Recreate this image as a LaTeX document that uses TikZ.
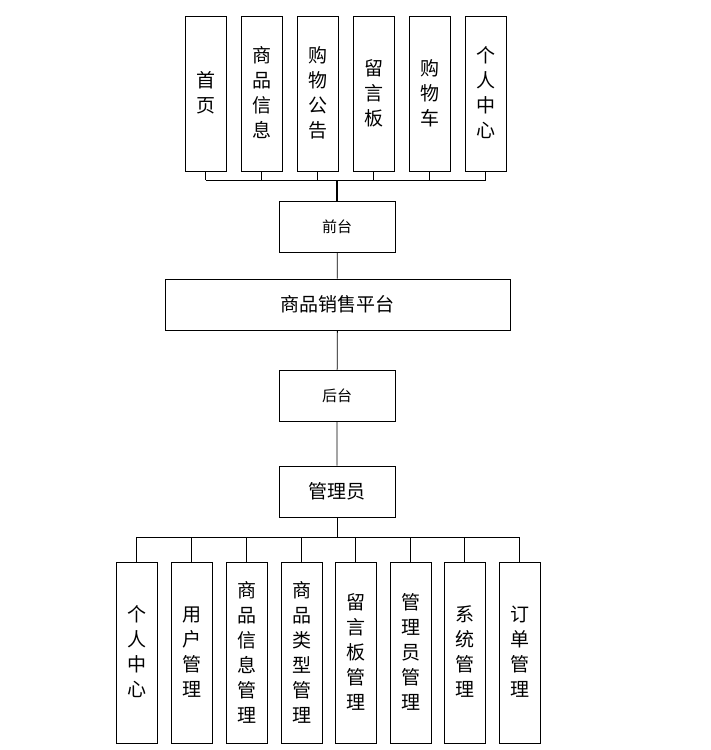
\documentclass[tikz,border=0pt]{standalone}
\usepackage{fontspec}
\newfontfamily\cjk{Noto Sans CJK SC}
\begin{document}
\begin{tikzpicture}[x=1pt,y=-1pt,
  bx/.style={draw,line width=0.8pt},
  vt/.style={font=\cjk\fontsize{19}{25}\selectfont,align=center,inner sep=0pt},
  ln/.style={line width=0.8pt}]
\useasboundingbox (0,0) rectangle (711,750);
% top boxes
\foreach \x/\t [count=\i] in {185/{首\\页},241/{商\\品\\信\\息},297/{购\\物\\公\\告},353/{留\\言\\板},409/{购\\物\\车},465/{个\\人\\中\\心}}{
  \draw[bx] (\x,16) rectangle ++(41,155);
  \node[vt] (t\i) at (\x+20.5,93) {\t};
  \coordinate (tb\i) at (\x+20.5,171);
  \coordinate (tj\i) at (\x+20.5,180);
  \draw[ln] (tb\i) -- (tj\i);
}
\draw[ln] (tj1) -- (tj6);
\node[bx,minimum width=116pt,minimum height=51pt,font=\cjk\fontsize{15}{18}\selectfont] (qt) at (337,226.5) {前台};
\node[bx,minimum width=345pt,minimum height=51pt,font=\cjk\fontsize{19}{22}\selectfont] (pt) at (337.5,304.5) {商品销售平台};
\node[bx,minimum width=116pt,minimum height=51pt,font=\cjk\fontsize{15}{18}\selectfont] (ht) at (337,395.5) {后台};
\node[bx,minimum width=116pt,minimum height=51pt,font=\cjk\fontsize{19}{22}\selectfont] (gl) at (337,491.5) {管理员};
\coordinate (top) at (337,180);
\draw[line width=1.6pt] (top) -- (qt.north);
\draw[ln] (qt) -- (pt) -- (ht) -- (gl);
\coordinate (bj) at (337,537);
\draw[ln] (gl.south) -- (bj);
\foreach \x/\t [count=\i] in {116/{个\\人\\中\\心},171/{用\\户\\管\\理},226/{商\\品\\信\\息\\管\\理},281/{商\\品\\类\\型\\管\\理},335/{留\\言\\板\\管\\理},390/{管\\理\\员\\管\\理},444/{系\\统\\管\\理},499/{订\\单\\管\\理}}{
  \draw[bx] (\x,562) rectangle ++(41,181);
  \node[vt] (b\i) at (\x+20.5,652) {\t};
  \coordinate (bt\i) at (\x+20.5,562);
  \coordinate (bk\i) at (\x+20.5,537);
  \draw[ln] (bt\i) -- (bk\i);
}
\draw[ln] (bk1) -- (bk8);
\end{tikzpicture}
\end{document}
